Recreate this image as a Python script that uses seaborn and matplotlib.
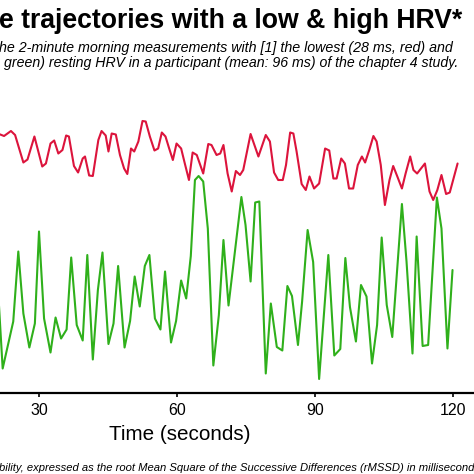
import pandas as pd
import seaborn as sns
import matplotlib.pyplot as plt

low_t = [21.3, 22.4, 23.9, 24.8, 26.6, 27.5, 29.0, 30.7, 31.5, 32.5,
         33.3, 34.2, 35.1, 35.9, 36.5, 37.6, 38.5, 39.5, 40.0, 40.9,
         41.7, 42.9, 43.6, 44.5, 45.1, 45.8, 46.7, 47.6, 48.5, 49.2,
         50.0, 50.7, 51.6, 52.5, 53.2, 54.1, 55.1, 55.9, 56.7, 57.5,
         58.3, 59.1, 59.9, 60.9, 61.7, 62.6, 63.4, 64.3, 65.7, 66.8,
         67.5, 68.6, 69.4, 70.1, 71.0, 71.9, 72.8, 73.7, 74.4, 76.0,
         77.7, 79.3, 80.2, 81.1, 82.0, 83.0, 83.7, 84.6, 85.3, 86.0,
         87.1, 88.0, 88.8, 89.8, 90.9, 92.2, 93.1, 94.0, 94.7, 95.7,
         96.5, 97.4, 98.3, 99.3, 100.2, 100.9, 101.8, 102.7, 103.4, 104.3,
         105.2, 106.2, 107.0, 107.9, 108.9, 109.7, 110.7, 111.4, 112.2, 113.9,
         114.9, 115.7, 116.6, 117.5, 118.5, 119.3, 121.0]
low_hr = [93.2, 92.8, 93.8, 93.0, 87.5, 88.1, 92.7, 86.7, 87.3, 91.3,
          91.9, 89.3, 90.0, 92.9, 92.7, 86.8, 85.5, 88.3, 88.7, 84.9,
          84.8, 92.0, 93.8, 92.9, 89.7, 93.3, 93.1, 89.0, 86.3, 85.2,
          90.3, 89.7, 91.7, 95.8, 95.7, 92.7, 89.9, 90.3, 93.5, 92.7,
          90.3, 88.0, 91.3, 90.3, 87.3, 84.0, 89.5, 89.0, 85.3, 91.2,
          91.0, 89.0, 89.3, 91.0, 85.3, 81.7, 85.8, 85.0, 86.0, 93.2,
          88.7, 93.0, 91.7, 85.5, 84.0, 84.0, 87.0, 93.5, 93.3, 89.7,
          83.2, 82.0, 84.7, 82.3, 83.3, 90.3, 89.9, 84.3, 84.3, 88.3,
          87.3, 82.3, 82.3, 87.0, 88.7, 87.5, 90.0, 92.8, 91.7, 87.0,
          79.0, 84.0, 86.8, 84.7, 82.3, 85.3, 88.7, 86.0, 85.3, 87.3,
          81.7, 80.0, 82.0, 85.0, 81.2, 81.5, 87.3]

high_t = [21.1, 22.1, 24.4, 25.5, 26.6, 27.9, 29.1, 30.0, 31.1, 32.5,
          33.6, 34.8, 36.0, 37.0, 38.2, 39.5, 40.5, 41.7, 42.8, 43.8,
          45.1, 46.2, 47.2, 48.6, 49.8, 50.8, 51.9, 53.0, 54.0, 55.2,
          56.4, 57.4, 58.7, 59.8, 60.9, 62.0, 63.0, 63.9, 64.7, 65.7,
          66.7, 67.9, 69.1, 70.1, 71.2, 74.0, 74.9, 76.0, 77.0, 77.9,
          79.3, 80.4, 81.7, 82.9, 84.0, 85.0, 86.3, 87.2, 88.4, 89.6,
          90.9, 92.9, 94.2, 95.5, 96.6, 97.6, 98.9, 100.0, 101.2, 102.4,
          103.5, 104.5, 105.6, 106.8, 108.9, 109.9, 111.2, 112.1, 113.4, 114.6,
          116.5, 117.5, 118.8, 119.9]
high_hr = [62.0, 46.3, 55.7, 69.7, 57.3, 50.5, 55.3, 73.7, 56.3, 49.5,
           56.5, 52.3, 54.1, 68.5, 55.0, 51.9, 69.0, 48.1, 62.0, 69.5,
           51.2, 55.3, 66.8, 50.5, 55.8, 64.7, 58.7, 66.8, 69.0, 56.3,
           54.1, 65.7, 51.5, 55.8, 63.9, 60.3, 68.8, 84.0, 84.8, 83.7,
           74.3, 46.9, 57.0, 72.0, 58.9, 80.6, 75.0, 63.7, 79.5, 79.7,
           45.3, 59.3, 50.6, 49.9, 62.8, 60.8, 51.0, 59.7, 74.0, 67.6,
           44.2, 69.0, 48.9, 50.2, 68.4, 58.6, 51.7, 63.0, 60.7, 47.3,
           55.0, 72.5, 59.0, 52.6, 79.2, 67.7, 49.3, 72.7, 50.8, 51.0,
           80.5, 74.3, 50.3, 66.0]

series_names = ["lowest HRV", "highest HRV"]
series_colors = ["#DC143C", "#2FB01B"]
x_ticks = [30, 60, 90, 120]

df = pd.concat([
    pd.DataFrame({"time": low_t, "hr": low_hr, "series": series_names[0]}),
    pd.DataFrame({"time": high_t, "hr": high_hr, "series": series_names[1]}),
], ignore_index=True)

sns.set_style("white")
plt.rcParams["font.family"] = ["Liberation Sans", "DejaVu Sans"]
plt.rcParams["text.color"] = "black"

fig = plt.figure(figsize=(4.74, 4.74), dpi=100)
# the picture is a crop: axes run past the left edge
ax = fig.add_axes([0, 1 - 393 / 474, 1, 293 / 474])

sns.lineplot(data=df, x="time", y="hr", hue="series", palette=series_colors,
             estimator=None, sort=False, lw=1.5, legend=False, ax=ax)

ax.set_xlim(21.52, 124.57)
ax.set_ylim(41.4, 100)
ax.set_xticks(x_ticks)
ax.set_yticks([])
ax.set_ylabel("")
ax.tick_params(axis="x", bottom=True, direction="out", length=3, width=1.2,
               labelsize=11.5, pad=4, colors="black")
for s in ["left", "top", "right"]:
    ax.spines[s].set_visible(False)
ax.spines["bottom"].set_linewidth(1.6)
ax.spines["bottom"].set_color("black")

ax.set_xlabel("Time (seconds)", fontsize=14.9, color="black", va="center")
ax.xaxis.set_label_coords(180 / 474, (393 - 434) / 293)

fig.text(462 / 474, 1 - 21 / 474, "Heart rate trajectories with a low & high HRV*",
         ha="right", va="center", fontsize=19.2, fontweight="bold", color="black")
fig.text(453 / 474, 1 - 48 / 474,
         "the 2-minute morning measurements with [1] the lowest (28 ms, red) and",
         ha="right", va="center", fontsize=10.3, style="italic", color="black")
fig.text(458 / 474, 1 - 63 / 474,
         "green) resting HRV in a participant (mean: 96 ms) of the chapter 4 study.",
         ha="right", va="center", fontsize=10.15, style="italic", color="black")
fig.text(-1 / 474, 1 - 468 / 474,
         "bility, expressed as the root Mean Square of the Successive Differences (rMSSD) in milliseconds.",
         ha="left", va="center", fontsize=8.15, style="italic", color="black")

fig.savefig("out.png", dpi=100)
